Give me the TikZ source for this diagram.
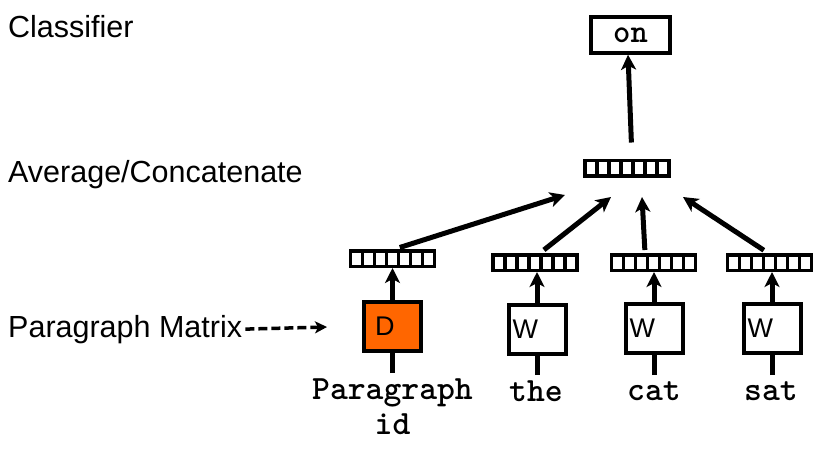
\documentclass[tikz,border=0pt]{standalone}
\usepackage{fontspec}
\setmainfont{Liberation Sans}
\usepackage{xcolor}
\usetikzlibrary{positioning,arrows.meta}
\definecolor{laranja}{RGB}{255,102,0}
\newcommand{\letra}{\fontsize{27}{29}\selectfont}

\tikzset{
  vetor/.style={draw, line width=3.5pt, minimum width=84pt, minimum height=15.5pt, inner sep=0pt,
    path picture={\foreach \i in {1,...,6}
      \draw[line width=3.2pt] ([xshift=\i*12pt]path picture bounding box.south west)
        -- ([xshift=\i*12pt]path picture bounding box.north west);}},
  caixa/.style={draw, line width=4pt, minimum width=57pt, minimum height=49pt,
    text width=49pt, align=left, inner sep=4pt},
  seta/.style={-{Stealth[length=15pt,width=15pt,inset=4pt]}, line width=5pt},
  palavra/.style={font=\fontsize{34}{35}\selectfont\ttfamily\bfseries, inner sep=6pt, anchor=north},
  rotulo/.style={font=\fontsize{30.5}{36}\selectfont, anchor=base west, inner sep=0pt}
}

\begin{document}
\begin{tikzpicture}[x=1pt, y=-1pt]
    \useasboundingbox (0,0) rectangle (818,450);

    % Rotulos da esquerda
    \node[rotulo] (lblCls) at (8,37) {Classifier};
    \node[rotulo] (lblAvg) at (8,182) {Average/Concatenate};
    \node[rotulo] (lblPM) at (8,337) {Paragraph Matrix};

    % Classificador e vetor medio
    \node[draw, line width=3.5pt, minimum width=79pt, minimum height=36pt,
          font=\fontsize{33}{35}\selectfont\ttfamily\bfseries] (on) at (630.5,35) {on};
    \node[vetor] (avg) at (627,168) {};

    % Vetores das palavras e do paragrafo
    \node[vetor] (vecD) at (392.5,258.5) {};
    \node[vetor] (vecThe) at (535,262.5) {};
    \node[vetor] (vecCat) at (653.5,262.5) {};
    \node[vetor] (vecSat) at (769.5,262.5) {};

    % Matrizes D e W
    \node[caixa, fill=laranja] (D) at (392.5,326.5) {\letra\hspace*{7pt}D};
    \node[caixa] (wThe) at (537,329) {\letra W};
    \node[caixa] (wCat) at (654,328.5) {\letra W};
    \node[caixa] (wSat) at (772,328.5) {\letra W};

    % Entradas
    \node[palavra, align=center] (par) at (392.5,373) {Paragraph\\id};
    \node[palavra] (the) at (536,375) {the};
    \node[palavra] (cat) at (654,375) {cat};
    \node[palavra] (sat) at (771,375) {sat};

    % Linhas das entradas
    \draw[line width=5pt] (par.north) -- (D.south);
    \draw[line width=5pt] (the.north -| wThe.south) -- (wThe.south);
    \draw[line width=5pt] (cat.north -| wCat.south) -- (wCat.south);
    \draw[line width=5pt] (sat.north -| wSat.south) -- (wSat.south);

    % Setas das matrizes para os vetores
    \draw[seta] (D.north) -- (vecD.south);
    \draw[seta] (wThe.north) -- (vecThe.south -| wThe.north);
    \draw[seta] (wCat.north) -- (vecCat.south -| wCat.north);
    \draw[seta] (wSat.north) -- (vecSat.south -| wSat.north);

    % Setas para o vetor medio
    \coordinate (e1) at (565,195);
    \coordinate (e2) at (611,197);
    \coordinate (e3) at (642,197);
    \coordinate (e4) at (683,197);
    \draw[seta, shorten <=5pt] ([xshift=2.5pt]vecD.north) -- (e1);
    \draw[seta, shorten <=5pt] ([xshift=5pt]vecThe.north) -- (e2);
    \draw[seta, shorten <=3pt] ([xshift=-8.5pt]vecCat.north) -- (e3);
    \draw[seta, shorten <=5pt] ([xshift=-1.5pt]vecSat.north) -- (e4);

    % Seta para o classificador
    \draw[seta, shorten <=16pt] ([xshift=5pt]avg.north) -- ([xshift=-2.5pt]on.south);

    % Seta tracejada
    \coordinate (ptaPM) at (327,327);
    \draw[line width=3.5pt, dash pattern=on 9pt off 4pt,
          -{Stealth[length=12pt,width=12pt,inset=3pt]}] (lblPM.east) ++(3pt,0) -- (ptaPM);
\end{tikzpicture}
\end{document}
